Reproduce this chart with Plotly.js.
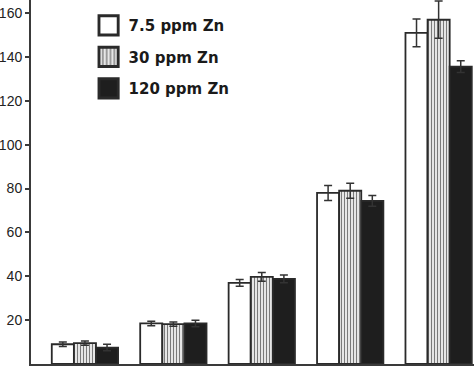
<!DOCTYPE html>
<html>
<head>
<meta charset="utf-8">
<script src="https://cdn.plot.ly/plotly-3.0.1.min.js"></script>
<style>html,body{margin:0;padding:0;background:#fff;}#chart{width:474px;height:370px;}</style>
</head>
<body>
<div id="chart"></div>
<script>
var groups = ['A', 'B', 'C', 'D', 'E'];
var seriesNames = ['7.5 ppm Zn', '30 ppm Zn', '120 ppm Zn'];
var zn7_5 = [9.0, 18.5, 37.0, 78.0, 151.0];
var zn30 = [9.5, 18.2, 39.7, 79.0, 157.0];
var zn120 = [7.5, 18.5, 38.8, 74.4, 135.6];
var err7_5 = [1.0, 1.0, 1.5, 3.4, 6.3];
var err30 = [1.0, 1.0, 2.0, 3.4, 8.5];
var err120 = [1.5, 1.5, 1.8, 2.5, 2.7];
var yTicks = [20, 40, 60, 80, 100, 120, 140, 160];

var outline = {color: '#2a2a2a', width: 1.8};
var eb = function (arr) {
  return {type: 'data', array: arr, visible: true, color: '#333', thickness: 1.5, width: 4};
};
var traces = [
  {type: 'bar', x: groups, y: zn7_5, name: seriesNames[0], legendgroup: 'a',
   marker: {color: '#ffffff', line: outline}, error_y: eb(err7_5)},
  {type: 'bar', x: groups, y: zn30, name: seriesNames[1], legendgroup: 'b',
   marker: {color: '#dcdcdc', line: outline,
     pattern: {shape: '|', fgcolor: '#7a7a7a', bgcolor: '#e6e6e6', size: 3, solidity: 0.35}},
   error_y: eb(err30)},
  {type: 'bar', x: groups, y: zn120, name: seriesNames[2], legendgroup: 'c',
   marker: {color: '#1e1e1e', line: outline}, error_y: eb(err120)}
];

var layout = {
  width: 474, height: 370,
  margin: {l: 31, r: 0, t: 0, b: 6},
  paper_bgcolor: '#ffffff', plot_bgcolor: '#ffffff',
  barmode: 'group', bargap: 0.25, bargroupgap: 0,
  showlegend: true,
  legend: {x: 0.13, y: 0.975, xanchor: 'left', yanchor: 'top',
    traceorder: 'grouped', tracegroupgap: 9, bgcolor: 'rgba(0,0,0,0)',
    font: {family: 'DejaVu Sans', size: 15, color: '#1a1a1a', weight: 'bold'}},
  xaxis: {type: 'category', range: [-0.61, 4.4], showticklabels: false, ticks: '',
    showline: true, linecolor: '#3a3a3a', linewidth: 2, showgrid: false, zeroline: false},
  yaxis: {range: [0, 166], tickvals: yTicks, ticktext: yTicks.map(String),
    ticks: 'outside', ticklen: 4, tickwidth: 2, tickcolor: '#3a3a3a',
    showline: true, linecolor: '#3a3a3a', linewidth: 2, showgrid: false, zeroline: false,
    tickfont: {family: 'Liberation Sans', size: 14, color: '#222222'}}
};

Plotly.newPlot('chart', traces, layout, {displayModeBar: false, staticPlot: true}).then(function () {
  document.querySelectorAll('.legend .legendpoints path').forEach(function (p) {
    var t = p.getAttribute('transform') || '';
    p.setAttribute('transform', t + ' scale(1.6)');
  });
});
</script>
</body>
</html>
